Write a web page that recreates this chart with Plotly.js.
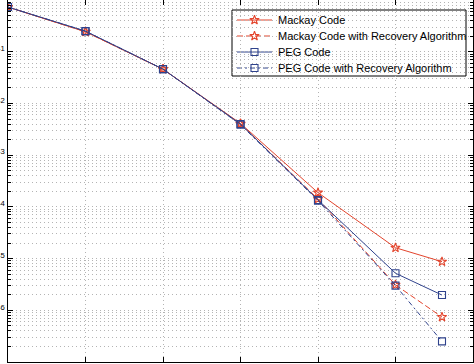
<!DOCTYPE html>
<html>
<head>
<meta charset="utf-8">
<script src="https://cdn.plot.ly/plotly-3.0.1.min.js"></script>
<style>html,body{margin:0;padding:0;background:#fff;}#chart{width:474px;height:364px;}</style>
</head>
<body>
<div id="chart"></div>
<script>
// Data
const snr = [0, 1, 2, 3, 4, 5, 5.6];
const mackay = [0.73, 0.243, 0.046, 0.0041, 1.88e-4, 1.62e-5, 8.7e-6];
const mackayRec = [0.73, 0.243, 0.046, 0.0040, 1.42e-4, 3.1e-6, 7.4e-7];
const peg = [0.73, 0.25, 0.046, 0.0040, 1.36e-4, 5.2e-6, 1.97e-6];
const pegRec = [0.73, 0.25, 0.046, 0.0039, 1.32e-4, 3.0e-6, 2.5e-7];
const seriesNames = ['Mackay Code', 'Mackay Code with Recovery Algorithm', 'PEG Code', 'PEG Code with Recovery Algorithm'];
const yTickVals = [1, 1e-1, 1e-2, 1e-3, 1e-4, 1e-5, 1e-6, 1e-7];
const yTickText = ['', '10<sup>-1</sup>', '10<sup>-2</sup>', '10<sup>-3</sup>', '10<sup>-4</sup>', '10<sup>-5</sup>', '10<sup>-6</sup>', '10<sup>-7</sup>'];
const xTickVals = [0, 1, 2, 3, 4, 5, 6];

const RED = '#e3442c';
const BLUE = '#2f428c';
const GRID = '#b4b4b4';
const DASH_M = '6px,3px';
const DASH_P = '5px,3px,2px,3px';

const styles = [
  {color: RED, dash: 'solid', symbol: 'star-open', size: 7},
  {color: RED, dash: DASH_M, symbol: 'star-open', size: 7},
  {color: BLUE, dash: 'solid', symbol: 'square-open', size: 7},
  {color: BLUE, dash: DASH_P, symbol: 'square-open', size: 7}
];
const ys = [mackay, mackayRec, peg, pegRec];

const traces = ys.map((y, i) => ({
  x: snr, y: y, name: seriesNames[i], mode: 'lines+markers', showlegend: false,
  line: {color: styles[i].color, width: 1, dash: styles[i].dash},
  marker: {symbol: styles[i].symbol, size: styles[i].size, color: styles[i].color,
           line: {width: 1.1, color: styles[i].color}}
}));

// ---- custom legend (layout only) ----
const W = 474, H = 364, ML = 8, MR = 1, MT = 0, MB = 2;
const PW = W - ML - MR, PH = H - MT - MB;
const px = v => (v - ML) / PW;
const py = v => 1 - (v - MT) / PH;
const LG = {x0: 232, x1: 466, y0: 10, y1: 76, rowY: [20, 36, 52, 68], lineX0: 237, lineX1: 272, textX: 276};

const shapes = [{
  type: 'rect', xref: 'paper', yref: 'paper', layer: 'between',
  x0: px(LG.x0), x1: px(LG.x1), y0: py(LG.y1), y1: py(LG.y0),
  fillcolor: '#fff', line: {color: '#000', width: 1}
}];
const annotations = [];
seriesNames.forEach((n, i) => {
  shapes.push({type: 'line', xref: 'paper', yref: 'paper', layer: 'between',
    x0: px(LG.lineX0), x1: px(LG.lineX1), y0: py(LG.rowY[i]), y1: py(LG.rowY[i]),
    line: {color: styles[i].color, width: 1, dash: styles[i].dash}});
  annotations.push({xref: 'paper', yref: 'paper', x: px(LG.textX), y: py(LG.rowY[i]),
    xanchor: 'left', yanchor: 'middle', showarrow: false, text: n,
    font: {size: 11, color: '#000'}});
  traces.push({x: [px((LG.lineX0 + LG.lineX1) / 2)], y: [py(LG.rowY[i])], xaxis: 'x2', yaxis: 'y2',
    mode: 'markers', showlegend: false, hoverinfo: 'skip', cliponaxis: false,
    marker: {symbol: styles[i].symbol, size: styles[i].size, color: styles[i].color,
             line: {width: 1.1, color: styles[i].color}}});
});

const layout = {
  width: W, height: H,
  margin: {l: ML, r: MR, t: MT, b: MB, pad: 0},
  paper_bgcolor: '#fff', plot_bgcolor: '#fff',
  font: {family: 'Liberation Sans, Arial, sans-serif', size: 11, color: '#000'},
  showlegend: false,
  shapes: shapes,
  annotations: annotations,
  xaxis: {
    range: [0, 6], tickmode: 'array', tickvals: xTickVals, ticktext: xTickVals.map(() => ''),
    ticks: 'inside', ticklen: 5, tickcolor: '#000',
    showline: true, linecolor: '#000', linewidth: 1, mirror: 'ticks',
    showgrid: true, gridcolor: GRID, griddash: '1px,3px', gridwidth: 1,
    zeroline: false
  },
  yaxis: {
    type: 'log', range: [-7, 0], tickmode: 'array', tickvals: yTickVals, ticktext: yTickText,
    ticks: 'inside', ticklen: 5, tickcolor: '#000',
    showline: true, linecolor: '#000', linewidth: 1, mirror: 'ticks',
    showgrid: true, gridcolor: GRID, griddash: '1px,3px', gridwidth: 1,
    zeroline: false,
    tickfont: {size: 11, color: '#000'},
    minor: {dtick: 'D1', ticks: 'inside', ticklen: 3, tickcolor: '#000',
            showgrid: true, gridcolor: GRID, griddash: '1px,3px', gridwidth: 1}
  },
  xaxis2: {overlaying: 'x', anchor: 'y2', range: [0, 1], visible: false, fixedrange: true},
  yaxis2: {overlaying: 'y', anchor: 'x2', range: [0, 1], visible: false, fixedrange: true}
};

Plotly.newPlot('chart', traces, layout, {displayModeBar: false, staticPlot: true});
</script>
</body>
</html>
